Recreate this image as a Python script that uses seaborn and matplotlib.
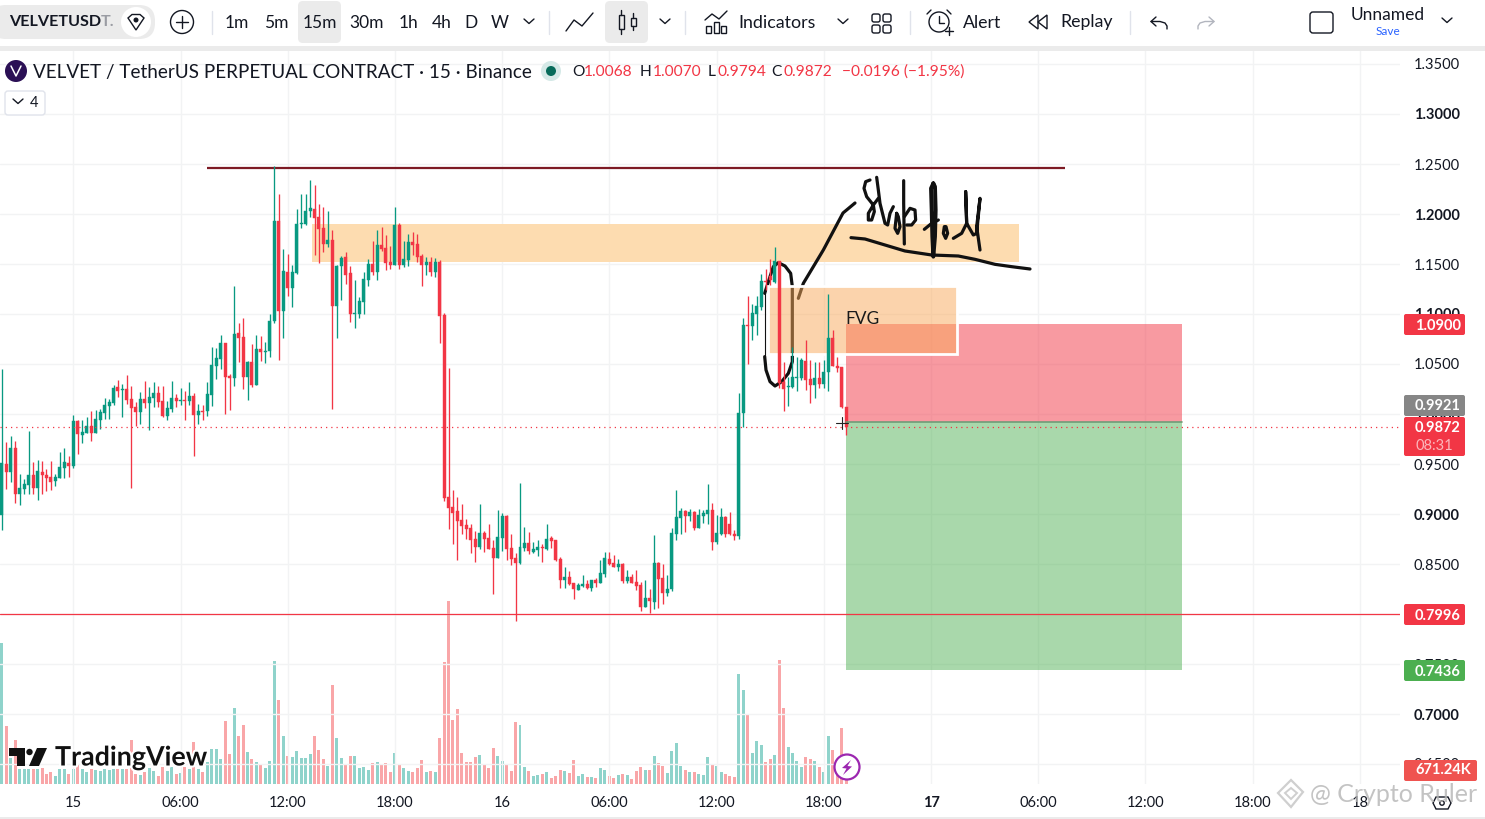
import numpy as np
import pandas as pd
import seaborn as sns
import matplotlib.pyplot as plt
from matplotlib.patches import Rectangle, FancyBboxPatch, Circle, Polygon
from matplotlib.transforms import Affine2D
import matplotlib.patheffects as pe

# 15m candles, bar 0 = the "15" date tick
opens = [0.899,0.950,0.942,0.966,0.920,0.925,0.929,0.939,0.926,0.942,
         0.939,0.937,0.933,0.936,0.946,0.951,0.948,0.993,0.979,0.981,
         0.988,0.981,0.994,1.001,1.008,1.011,1.027,1.024,1.025,1.015,
         1.007,1.002,1.015,1.011,1.016,1.021,1.013,0.998,1.005,1.016,
         1.013,1.014,1.013,1.018,0.999,1.003,1.003,1.019,1.048,1.055,
         1.071,1.038,1.036,1.081,1.077,1.037,1.052,1.029,1.065,1.062,
         1.063,1.093,1.193,1.103,1.142,1.126,1.141,1.190,1.190,1.203,
         1.205,1.197,1.186,1.170,1.174,1.108,1.148,1.157,1.141,1.100,
         1.100,1.112,1.134,1.150,1.142,1.169,1.166,1.152,1.149,1.189,
         1.149,1.154,1.172,1.170,1.158,1.149,1.152,1.142,1.152,1.099,
         0.917,0.907,0.903,0.894,0.889,0.886,0.875,0.867,0.881,0.876,
         0.866,0.856,0.876,0.898,0.866,0.856,0.851,0.866,0.871,0.862,
         0.864,0.867,0.865,0.876,0.874,0.855,0.834,0.837,0.831,0.824,
         0.828,0.830,0.826,0.834,0.831,0.840,0.855,0.851,0.847,0.850,
         0.833,0.837,0.832,0.829,0.807,0.816,0.812,0.851,0.836,0.821,
         0.825,0.880,0.896,0.903,0.898,0.902,0.886,0.898,0.900,0.904,
         0.872,0.880,0.897,0.890,0.880,0.878,1.001,1.089,1.088,1.100,
         1.107,1.133,1.138,1.132,1.153,1.032,1.027,1.027,1.036,1.036,
         1.053,1.035,1.029,1.036,1.030,1.042,1.076,1.048,1.047,1.0068]
highs = [1.045,0.972,0.978,0.973,0.940,0.935,0.983,0.952,0.954,0.953,
         0.945,0.953,0.940,0.962,0.966,0.958,0.999,0.994,0.994,0.997,
         1.003,1.004,1.005,1.016,1.015,1.029,1.034,1.030,1.039,1.028,
         1.012,1.022,1.033,1.027,1.032,1.028,1.028,1.013,1.033,1.020,
         1.026,1.023,1.032,1.021,1.010,1.009,1.032,1.067,1.066,1.079,
         1.071,1.040,1.128,1.091,1.096,1.053,1.070,1.079,1.078,1.072,
         1.100,1.248,1.220,1.165,1.160,1.149,1.205,1.220,1.220,1.234,
         1.229,1.210,1.207,1.203,1.184,1.149,1.158,1.162,1.148,1.134,
         1.117,1.142,1.155,1.173,1.184,1.187,1.179,1.168,1.207,1.191,
         1.173,1.180,1.182,1.180,1.160,1.157,1.157,1.156,1.154,1.101,
         1.046,0.924,0.917,0.910,0.895,0.890,0.883,0.910,0.883,0.890,
         0.874,0.904,0.901,0.899,0.880,0.861,0.931,0.887,0.882,0.872,
         0.874,0.870,0.890,0.878,0.874,0.857,0.847,0.843,0.831,0.831,
         0.839,0.834,0.834,0.836,0.854,0.862,0.862,0.859,0.855,0.851,
         0.844,0.840,0.844,0.832,0.834,0.825,0.879,0.852,0.850,0.839,
         0.886,0.924,0.906,0.904,0.905,0.903,0.905,0.904,0.930,0.911,
         0.899,0.906,0.898,0.902,0.884,1.021,1.096,1.118,1.110,1.118,
         1.140,1.145,1.155,1.167,1.153,1.052,1.037,1.067,1.057,1.056,
         1.074,1.054,1.052,1.052,1.054,1.120,1.084,1.057,1.047,1.0070]
lows = [0.884,0.925,0.932,0.911,0.909,0.920,0.920,0.920,0.914,0.920,
        0.923,0.924,0.928,0.936,0.936,0.937,0.946,0.960,0.971,0.981,
        0.973,0.981,0.985,0.995,0.995,1.009,1.017,0.997,1.010,0.926,
        0.988,0.990,1.006,0.984,1.007,1.007,0.997,0.994,1.002,1.007,
        1.009,0.994,1.009,0.958,0.990,0.994,0.998,1.008,1.035,1.045,
        1.000,1.004,1.028,1.052,1.025,1.014,1.027,1.029,1.053,1.051,
        1.057,1.091,1.054,1.076,1.118,1.107,1.140,1.186,1.189,1.197,
        1.159,1.151,1.162,1.167,1.005,1.076,1.114,1.130,1.092,1.086,
        1.096,1.100,1.128,1.139,1.134,1.163,1.144,1.145,1.149,1.145,
        1.147,1.148,1.159,1.152,1.128,1.139,1.138,1.137,1.071,0.913,
        0.885,0.870,0.854,0.880,0.875,0.861,0.852,0.865,0.862,0.865,
        0.820,0.856,0.863,0.854,0.849,0.793,0.850,0.863,0.860,0.861,
        0.858,0.852,0.864,0.866,0.853,0.826,0.826,0.829,0.815,0.824,
        0.827,0.825,0.823,0.827,0.831,0.837,0.849,0.847,0.843,0.831,
        0.831,0.831,0.824,0.803,0.807,0.801,0.805,0.806,0.810,0.818,
        0.823,0.874,0.880,0.882,0.893,0.884,0.886,0.891,0.890,0.864,
        0.870,0.879,0.877,0.879,0.874,0.875,0.987,1.050,1.074,1.079,
        1.104,1.124,1.129,1.131,1.026,1.003,1.008,1.026,1.023,1.034,
        1.024,1.011,1.016,1.026,1.026,1.023,1.048,1.042,1.006,0.9794]
closes = [0.951,0.942,0.966,0.920,0.926,0.930,0.939,0.926,0.943,0.939,
          0.936,0.932,0.937,0.947,0.952,0.948,0.993,0.980,0.982,0.988,
          0.981,0.995,1.002,1.009,1.012,1.026,1.023,1.025,1.014,1.006,
          1.002,1.015,1.011,1.017,1.021,1.012,0.998,1.006,1.016,1.013,
          1.014,1.013,1.018,0.999,1.003,1.002,1.020,1.049,1.056,1.071,
          1.037,1.036,1.080,1.076,1.037,1.052,1.029,1.065,1.062,1.063,
          1.093,1.193,1.103,1.143,1.126,1.142,1.190,1.191,1.203,1.206,
          1.196,1.185,1.170,1.174,1.108,1.148,1.156,1.139,1.100,1.101,
          1.113,1.135,1.150,1.142,1.169,1.165,1.151,1.149,1.189,1.149,
          1.155,1.172,1.169,1.157,1.149,1.152,1.142,1.152,1.098,0.916,
          0.906,0.901,0.893,0.888,0.885,0.874,0.867,0.881,0.875,0.865,
          0.856,0.877,0.898,0.865,0.855,0.851,0.867,0.871,0.863,0.865,
          0.867,0.866,0.875,0.873,0.854,0.834,0.837,0.830,0.825,0.829,
          0.830,0.826,0.834,0.831,0.841,0.856,0.850,0.847,0.850,0.833,
          0.837,0.831,0.828,0.807,0.816,0.813,0.851,0.835,0.821,0.825,
          0.881,0.897,0.903,0.898,0.902,0.886,0.899,0.901,0.904,0.872,
          0.881,0.897,0.880,0.880,0.878,1.001,1.089,1.088,1.101,1.108,
          1.133,1.132,1.134,1.153,1.031,1.025,1.028,1.037,1.037,1.054,
          1.034,1.029,1.036,1.030,1.042,1.076,1.048,1.046,1.0068,0.9872]
volumes_k = [6768,2784,1248,2112,720,720,720,720,720,768,
             480,576,384,720,720,480,720,912,720,576,
             720,672,624,720,672,720,720,720,720,2112,
             480,432,576,768,624,384,816,624,816,480,
             528,816,720,2016,720,576,1056,1680,1680,1200,
             3024,1440,3648,2304,2832,1536,1200,1056,960,768,
             1104,5904,4032,2304,1344,1296,1584,1248,1248,1440,
             2304,1632,1200,864,4752,2208,1248,912,1344,1344,
             768,816,672,1008,1056,960,1008,576,1488,912,
             768,624,576,768,1152,576,624,576,2208,5856,
             8784,3072,3600,1488,1056,1056,1296,1392,912,768,
             1728,1344,1104,912,624,2976,2832,816,624,384,
             432,480,576,288,384,672,624,528,1152,384,
             480,336,336,288,768,672,384,288,432,480,
             432,240,624,816,672,672,1344,1008,864,528,
             1584,1968,864,672,576,576,480,432,1296,912,
             864,576,480,384,336,5280,4512,3360,1488,2064,
             1872,1056,1200,1392,5952,3648,1776,1488,1104,816,
             1296,1200,1104,816,576,2304,1632,672,2688,671.24]
first_bar = -16

date_ticks = ['15','06:00','12:00','18:00','16','06:00','12:00','18:00','17','06:00','12:00','18:00','18']
price_ticks = [0.65,0.70,0.75,0.80,0.85,0.90,0.95,1.00,1.05,1.10,1.15,1.20,1.25,1.30,1.35]
bold_prices = [0.70,0.90,1.00,1.10,1.20,1.30]

resistance = 1.246
zone_top, zone_bottom = 1.190, 1.152
fvg_top, fvg_bottom = 1.128, 1.060
stop_price, entry_price, target_price = 1.0900, 0.9921, 0.7436
last_price = 0.9872
low_line = 0.7996

GREEN, RED = '#089981', '#f23645'

sns.set_style('white', {'font.family': 'sans-serif'})
plt.rcParams['font.family'] = ['Lato', 'DejaVu Sans']

df = pd.DataFrame({'open': opens, 'high': highs, 'low': lows, 'close': closes, 'vol': volumes_k})
df['bar'] = first_bar + np.arange(len(df))
df['dir'] = np.where(df['close'] >= df['open'], 'up', 'down')

W, H = 1485, 819
fig = plt.figure(figsize=(W / 100, H / 100), dpi=100)
fig.patch.set_facecolor('white')
ax = fig.add_axes([0, (H - 784) / H, 1400 / W, 734 / H])
ax_v = ax.twinx()
ax.set_zorder(2)
ax_v.set_zorder(1)
ax.patch.set_visible(False)

# pixel coordinates, top-left origin, for the hand drawn parts
px = Affine2D().scale(1, -1).translate(0, H)

# volume
sns.barplot(data=df, x='bar', y='vol', hue='dir', palette={'up': '#8fd3cb', 'down': '#f9a6a8'},
            native_scale=True, dodge=False, width=0.67, saturation=1, legend=False, linewidth=0, ax=ax_v)
ax_v.set_ylim(0, 734 * 48)
ax_v.set_xlabel('')
ax_v.set_ylabel('')
ax_v.yaxis.set_visible(False)

# drawings under the candles
ax.add_patch(Rectangle((53.4, zone_bottom), 158.3, zone_top - zone_bottom, fc='#fddcb0', ec='none', zorder=1))
ax.add_patch(Rectangle((173, entry_price), 75.2, stop_price - entry_price, fc=(0.949, 0.212, 0.271, 0.5), ec='none', zorder=2.1))
ax.add_patch(Rectangle((173, target_price), 75.2, entry_price - target_price, fc=(0.298, 0.686, 0.314, 0.48), ec='none', zorder=2.1))
ax.add_patch(Rectangle((155.5, fvg_bottom), 42.3, fvg_top - fvg_bottom, fc=(0.976, 0.663, 0.353, 0.5),
                       ec='white', lw=2, zorder=2.2))
ax.plot([30, 222], [resistance, resistance], color='#7d1a24', lw=1.6, zorder=2.5, solid_capstyle='butt')


def stroke(points, ox=0, oy=0, lw=2.3):
    xs = [ox + p[0] / 3 for p in points]
    ys = [oy + p[1] / 3 for p in points]
    ax.plot(xs, ys, color='#111111', lw=lw, transform=px,
            solid_capstyle='round', solid_joinstyle='round', zorder=2)


# oval round the sweep candle and its tail
stroke([(97, 310), (97, 110), (92, 70), (75, 48), (55, 38), (40, 50), (30, 80), (14, 130)], 760, 250)
stroke([(14, 130), (14, 320)], 760, 250, lw=0.8)
stroke([(14, 320), (18, 360), (30, 395), (45, 408), (65, 395), (85, 370), (97, 335), (97, 310)], 760, 250)
stroke([(115, 145), (130, 100), (190, 0), (249, -111), (285, -141)], 760, 250)
# "Shop fall"
stroke([(75, 30), (62, 35), (57, 55), (65, 80), (85, 105), (88, 125), (80, 150), (70, 150), (70, 130), (85, 105), (100, 85)], 845, 170)
stroke([(95, 22), (100, 60), (105, 100), (120, 160), (128, 165), (135, 130), (145, 110)], 845, 170)
stroke([(155, 130), (150, 175), (158, 190), (165, 170), (160, 140), (155, 130)], 845, 170)
stroke([(176, 32), (176, 100), (178, 222)], 845, 170)
stroke([(178, 140), (195, 115), (210, 120), (212, 150), (200, 165), (185, 165)], 845, 170)
stroke([(265, 40), (258, 55), (260, 120), (262, 200), (265, 260), (270, 200), (272, 120), (270, 50), (265, 40)], 845, 170, lw=2.8)
stroke([(238, 178), (260, 160), (280, 150)], 845, 170)
stroke([(298, 170), (295, 190), (302, 205), (308, 190), (303, 170)], 845, 170)
stroke([(325, 205), (350, 190), (365, 160), (362, 65), (365, 160), (385, 195), (395, 190), (405, 85), (395, 170), (405, 240)], 845, 170)
stroke([(18, 203), (60, 207), (120, 225), (180, 243), (260, 255), (340, 258), (390, 268), (450, 283), (500, 290), (555, 297)], 845, 170)

# candles
ax.vlines(df['bar'], df['low'], df['high'], colors=df['dir'].map({'up': GREEN, 'down': RED}), lw=0.95, zorder=3)
body_low = df[['open', 'close']].min(axis=1)
body_high = df[['open', 'close']].max(axis=1)
ax.bar(df['bar'], body_high - body_low, bottom=body_low, width=0.67, zorder=3.1,
       color=df['dir'].map({'up': GREEN, 'down': RED}), edgecolor=df['dir'].map({'up': GREEN, 'down': RED}), lw=0.3)

ax.plot([173, 248.2], [entry_price, entry_price], color='#6f9c78', lw=1.2, zorder=4.1)

ax.axhline(low_line, color=RED, lw=0.9, zorder=4.5)
ax.axhline(last_price, color=RED, lw=0.9, ls=(0, (1, 3.2)), zorder=4.5)
ax.plot([836, 848], [423, 423], color='#222222', lw=0.8, transform=px, zorder=5)
ax.plot([842, 842], [417, 429], color='#222222', lw=0.8, transform=px, zorder=5)

# axes
ax.set_xlim((0 - 73.3) / 4.467, (1400 - 73.3) / 4.467)
ax.set_ylim(0.630, 1.364)
ax.set_xticks(np.arange(len(date_ticks)) * 24)
ax.set_xticklabels(date_ticks, fontsize=10.5, color='#131722')
for lab in ax.get_xticklabels():
    if lab.get_text() == '17':
        lab.set_fontweight('bold')
ax.yaxis.tick_right()
ax.set_yticks(price_ticks)
ax.set_yticklabels(['%.4f' % p for p in price_ticks], fontsize=10.5, color='#131722')
for lab, p in zip(ax.get_yticklabels(), price_ticks):
    if round(p, 2) in bold_prices:
        lab.set_fontweight('bold')
ax.tick_params(axis='x', length=0, pad=8.5)
ax.tick_params(axis='y', length=0, pad=10)
ax.grid(True, color='#f2f3f4', lw=1)
ax.set_axisbelow(True)
for a in (ax, ax_v):
    for s in a.spines.values():
        s.set_visible(False)
ax_v.tick_params(axis='x', length=0, labelbottom=False)

# toolbar, labels and everything else in pixel space
ui = fig.add_axes([0, 0, 1, 1], zorder=5)
ui.set_xlim(0, W)
ui.set_ylim(H, 0)
ui.axis('off')
INK = '#131722'


def txt(x, y, s, size=11.5, color=INK, ha='left', weight='normal', **kw):
    return ui.text(x, y + 1.5, s, fontsize=size, color=color, ha=ha, va='center', fontweight=weight, **kw)


def box(x0, y0, x1, y1, color, r=2, ec='none', lw=0):
    ui.add_patch(FancyBboxPatch((x0 + r, y0 + r), x1 - x0 - 2 * r, y1 - y0 - 2 * r,
                                boxstyle='round,pad=%g,rounding_size=%g' % (r, r), fc=color, ec=ec, lw=lw))


def line(xs, ys, color=INK, lw=1.0):
    ui.plot(xs, ys, color=color, lw=lw, solid_capstyle='round', solid_joinstyle='round')


def chevron(x, y):
    line([x - 5, x, x + 5], [y - 2, y + 2.5, y - 2], lw=1)


ui.add_patch(Rectangle((0, 46), W, 4.5, fc='#ebebeb', ec='none'))
ui.add_patch(Rectangle((0, 817), W, 2, fc='#ebebeb', ec='none'))

box(-10, 5, 155, 39, '#ebebeb', r=16)
ui.add_patch(Circle((136, 22), 15, fc='white', ec='none'))
txt(9, 21, 'VELVETUSD', 11.6, weight='bold')
txt(101, 21, 'T.', 11.6, color='#9a9ca3', weight='bold')
ui.add_patch(Polygon([(128, 18), (132, 14.5), (140, 14.5), (144, 18), (136, 30)], fc='white', ec=INK, lw=1))
ui.add_patch(Circle((136, 20), 2.5, fc=INK, ec='none'))
ui.add_patch(Circle((182, 22), 11.5, fc='white', ec=INK, lw=1))
line([176, 188], [22, 22])
line([182, 182], [16, 28])
line([212, 212], [11, 34], '#e0e3eb')
box(298, 1, 341, 43, '#ebebeb', r=5)
for x, s in zip([237, 276, 320, 367, 408, 442, 471, 500], ['1m', '5m', '15m', '30m', '1h', '4h', 'D', 'W']):
    txt(x, 21, s, 12.5, ha='center')
chevron(529, 21)
line([549, 549], [11, 34], '#e0e3eb')
line([566, 574, 582, 593], [31, 20, 26, 13])
box(605, 1, 648, 43, '#ebebeb', r=5)
for cx, y0, y1, by0, by1 in [(621, 10, 34, 15, 29), (633, 13, 30, 18, 26)]:
    line([cx, cx], [y0, by0])
    line([cx, cx], [by1, y1])
    ui.add_patch(Rectangle((cx - 2.5, by0), 5, by1 - by0, fc='none', ec=INK, lw=1))
chevron(665, 21)
line([685, 685], [11, 34], '#e0e3eb')
line([705, 712, 719, 727], [20, 14, 19, 11])
for bx, by in [(706, 26), (714, 22), (721, 26)]:
    ui.add_patch(Rectangle((bx, by), 5, 33 - by, fc='none', ec=INK, lw=1))
txt(738, 21, 'Indicators', 12.8)
chevron(843, 21)
for gx in (872, 883):
    for gy in (14, 25):
        ui.add_patch(FancyBboxPatch((gx + 1, gy + 1), 6, 6, boxstyle='round,pad=1,rounding_size=2', fc='none', ec=INK, lw=1))
line([910, 910], [11, 34], '#e0e3eb')
ui.add_patch(Circle((939, 22), 10, fc='none', ec=INK, lw=1))
line([939, 939, 944], [16, 23, 23])
line([931, 927], [10, 14])
line([947, 951], [10, 14])
line([945, 953], [31, 31])
line([949, 949], [27, 35])
txt(963, 21, 'Alert', 12.8)
ui.add_patch(Polygon([(1038, 15), (1029, 22), (1038, 29)], fc='none', ec=INK, lw=1))
ui.add_patch(Polygon([(1047, 15), (1038, 22), (1047, 29)], fc='none', ec=INK, lw=1))
txt(1060, 21, 'Replay', 12.8)
line([1130, 1130], [11, 34], '#e0e3eb')
line([1156, 1151, 1156], [17, 21.5, 26])
line([1151, 1160, 1165, 1167, 1167], [21.5, 21.5, 23, 26, 29])
line([1209, 1214, 1209], [17, 21.5, 26], '#b2b5be')
line([1214, 1205, 1200, 1198, 1198], [21.5, 21.5, 23, 26, 29], '#b2b5be')
box(1310, 12, 1333, 33, 'white', r=3, ec=INK, lw=1)
txt(1351, 14, 'Unnamed', 12.5)
txt(1388, 30, 'Save', 8.5, color='#2962ff', ha='center')
chevron(1447, 20)

# legend row
ui.add_patch(Circle((16, 71), 11, fc='#2b1055', ec='none'))
line([11, 16, 21], [66, 76, 66], 'white', 1.1)
txt(33, 71, 'VELVET / TetherUS PERPETUAL CONTRACT · 15 · Binance', 13.6)
ui.add_patch(Circle((551, 71), 10, fc='#d5e9e7', ec='none'))
ui.add_patch(Circle((551, 71), 5, fc='#066b5a', ec='none'))
for x, s, c in [(572, 'O', INK), (584, '1.0068', RED), (640, 'H', INK), (653, '1.0070', RED),
                (708, 'L', INK), (717, '0.9794', RED), (771, 'C', INK), (784, '0.9872', RED),
                (842, '−0.0196 (−1.95%)', RED)]:
    txt(x, 70.5, s, 11.2, color=c)
box(5, 91, 45, 115, 'white', r=3, ec='#e0e3eb', lw=1)
chevron(18, 101)
txt(30, 101.5, '4', 10.5)

txt(845, 317, 'FVG', 12.5, color='#1a1a1a')

# price scale labels
for y0, y1, c, s in [(314, 335, RED, '1.0900'), (395, 416, '#868686', '0.9921'),
                     (604, 625, RED, '0.7996'), (660, 681, '#4caf50', '0.7436')]:
    box(1404, y0, 1465, y1, c)
    txt(1415, (y0 + y1) / 2 - 0.5, s, 10.5, color='white', weight='bold')
box(1404, 417, 1465, 456, RED)
txt(1415, 426, '0.9872', 10.5, color='white', weight='bold')
txt(1415, 445, '08:31', 10.5, color='#fbb6bc')
box(1404, 760, 1477, 781, '#ef5350')
txt(1415, 769, '671.24K', 10.5, color='white', weight='bold')

# tradingview logo
halo = [pe.withStroke(linewidth=3, foreground='white')]
for poly in ([(9, 748), (25, 748), (25, 766), (17, 766), (17, 756), (9, 756)],
             [(37, 748), (47, 748), (39, 766), (29, 766)]):
    ui.add_patch(Polygon(poly, fc='#111111', ec='none'))
ui.add_patch(Circle((29.5, 752), 3.2, fc='#111111', ec='none'))
txt(55, 756, 'TradingView', 19.3, color='#111111', weight='bold', path_effects=halo)

# alert icon
ui.add_patch(Circle((847, 767), 12.5, fc='white', ec='#9c27b0', lw=1.6))
ui.add_patch(Polygon([(851, 760), (842, 768), (846.5, 768.5), (843, 775), (852, 766.5), (847.5, 766)], fc='#9c27b0', ec='none'))

# watermark and scale settings
ui.add_patch(Polygon([(1291, 780), (1303, 792), (1291, 807), (1278, 793)], fc='none', ec='#cfcfcf', lw=1.6))
ui.add_patch(Polygon([(1291, 788), (1297, 793), (1291, 799), (1285, 793)], fc='none', ec='#cfcfcf', lw=1.4))
txt(1310, 793.5, '@ Crypto Ruler', 18, color='#b5b5b5', alpha=0.8)
ui.add_patch(Polygon([(1436, 797), (1448, 797), (1451, 803), (1448, 809), (1436, 809), (1433, 803)], fc='none', ec=INK, lw=1))
ui.add_patch(Circle((1442, 803), 2.2, fc='none', ec=INK, lw=1))

fig.savefig('out.png', dpi=100)
